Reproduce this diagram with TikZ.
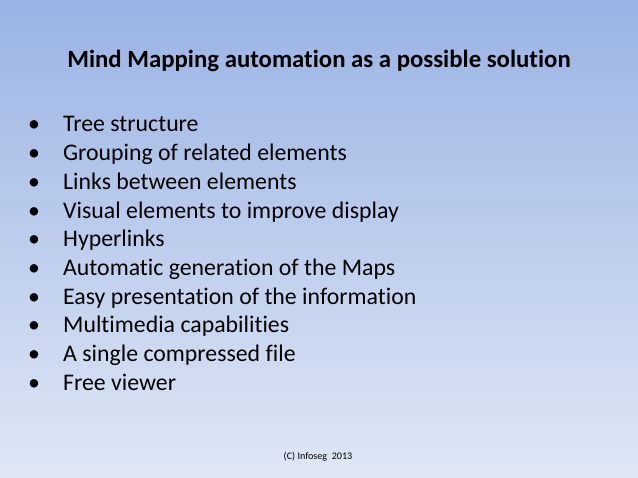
\documentclass[tikz,border=0pt]{standalone}
\usepackage{fontspec}
\setmainfont[Ligatures=NoCommon]{Carlito}
\definecolor{topc}{HTML}{9AB3E4}
\definecolor{botc}{HTML}{DFE7F5}
\begin{document}
\begin{tikzpicture}[x=1pt,y=1pt,
  item/.style={anchor=base west,font=\fontsize{23.8}{26}\selectfont,inner sep=0pt},
  bul/.style={anchor=base west,font=\fontsize{23.8}{26}\selectfont,inner sep=0pt}]
\shade[top color=topc,bottom color=botc] (0,0) rectangle (638,478);
\useasboundingbox (0,0) rectangle (638,478);
\node[font=\bfseries\fontsize{24.8}{27}\selectfont,anchor=base] (title) at (319,410) {Mind Mapping automation as a possible solution};
\foreach \t [count=\i] in {Tree structure,Grouping of related elements,Links between elements,Visual elements to improve display,Hyperlinks,Automatic generation of the Maps,Easy presentation of the information,Multimedia capabilities,A single compressed file,Free viewer}{
  \node[bul] (b\i) at (28,{478-132-(\i-1)*28.7}) {•};
  \node[item] (t\i) at (63,{478-132-(\i-1)*28.7}) {\t};
}
\node[font=\fontsize{10.1}{12}\selectfont,anchor=base] (foot) at (318,18) {(C) Infoseg\ \ 2013};
\end{tikzpicture}
\end{document}
